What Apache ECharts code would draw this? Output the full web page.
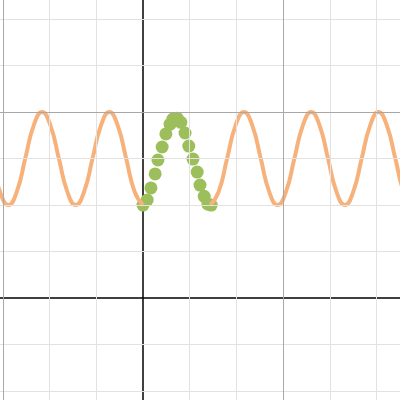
<!DOCTYPE html>
<html>
<head>
<meta charset="utf-8">
<script src="https://cdn.jsdelivr.net/npm/echarts@6/dist/echarts.min.js"></script>
<style>html,body{margin:0;padding:0;background:#fff}#main{width:400px;height:400px}</style>
</head>
<body>
<div id="main"></div>
<script>
// orange curve, left part (x, y)
let leftX = [-3.24,-3.06,-2.88,-2.70,-2.52,-2.34,-2.16,-1.98,-1.80,-1.62,-1.44,-1.26,-1.08,-0.90,-0.72,-0.54,-0.36,-0.18,0];
let leftY = [3,2.29,2,2.29,3,3.71,4,3.71,3,2.29,2,2.29,3,3.71,4,3.71,3,2.29,2];
// orange curve, right part
let rightX = [1.44,1.62,1.80,1.98,2.16,2.34,2.52,2.70,2.88,3.06,3.24,3.42,3.60,3.78,3.96,4.14,4.32,4.50,4.68,4.86,5.04,5.22,5.40,5.58,5.76];
let rightY = [2,2.29,3,3.71,4,3.71,3,2.29,2,2.29,3,3.71,4,3.71,3,2.29,2,2.29,3,3.71,4,3.71,3,2.29,2];
// green dots
let dotX = [0,0.09,0.17,0.26,0.32,0.41,0.49,0.58,0.64,0.73,0.81,0.90,0.98,1.07,1.16,1.22,1.31,1.39,1.46];
let dotY = [2.0,2.11,2.37,2.67,2.97,3.25,3.53,3.74,3.85,3.87,3.78,3.55,3.27,2.99,2.71,2.43,2.19,2.02,2.0];
// grid lines
let minorX = [-2,-1,1,2,4,5];
let minorY = [-2,-1,1,2,3,5,6];
let majorX = [-3,3];
let majorY = [4];

function pairs(xs, ys){ return xs.map((x,i)=>[x,ys[i]]); }

let myChart = echarts.init(document.getElementById('main'));
let option = {
  animation:false,
  grid:{left:0, top:0, right:0, bottom:0},
  xAxis:{type:'value', min:-3.06, max:5.5,
    axisLine:{onZero:true, lineStyle:{color:'#000', width:1.5}},
    axisTick:{show:false}, axisLabel:{show:false}, splitLine:{show:false}},
  yAxis:{type:'value', min:-2.19, max:6.41,
    axisLine:{onZero:true, lineStyle:{color:'#000', width:1.5}},
    axisTick:{show:false}, axisLabel:{show:false}, splitLine:{show:false}},
  series:[
    {type:'line', data:[], markLine:{silent:true, symbol:'none', label:{show:false},
      lineStyle:{color:'#e2e2e2', width:1, type:'solid'},
      data:minorX.map(v=>({xAxis:v})).concat(minorY.map(v=>({yAxis:v})))}},
    {type:'line', data:[], markLine:{silent:true, symbol:'none', label:{show:false},
      lineStyle:{color:'#a8a8a8', width:1, type:'solid'},
      data:majorX.map(v=>({xAxis:v})).concat(majorY.map(v=>({yAxis:v})))}},
    {type:'line', data:pairs(leftX,leftY), smooth:true, showSymbol:false, clip:true,
      lineStyle:{color:'#f7b27c', width:4}},
    {type:'line', data:pairs(rightX,rightY), smooth:true, showSymbol:false, clip:true,
      lineStyle:{color:'#f7b27c', width:4}},
    {type:'scatter', data:pairs(dotX,dotY), symbolSize:13,
      itemStyle:{color:'#9dbf5b', opacity:1}}
  ]
};
myChart.setOption(option,true);
</script>
</body>
</html>
